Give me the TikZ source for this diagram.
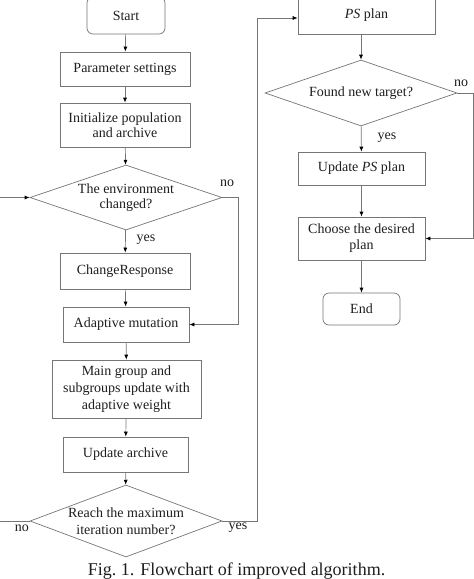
\documentclass[tikz,border=0pt]{standalone}
\usepackage{fontspec}
\setmainfont{Liberation Serif}
\usetikzlibrary{shapes.geometric,arrows.meta}
\definecolor{linegray}{HTML}{767676}
\definecolor{txt}{HTML}{1E1E1E}
\begin{document}
\begin{tikzpicture}[x=1pt,y=-1pt,
  every node/.style={text=txt},
  box/.style={draw=linegray, line width=0.7pt, fill=white, inner sep=0pt, align=center,
    font=\fontsize{14}{14}\selectfont},
  rbox/.style={box, rounded corners=6pt},
  dia/.style={box, diamond, minimum width=192pt, minimum height=65pt},
  dtext/.style={inner sep=0pt, align=center, text=txt},
  lbl/.style={font=\fontsize{14}{14}\selectfont, inner sep=0pt},
  arr/.style={draw=linegray, line width=0.7pt, -{Latex[length=5pt,width=4pt,color=black]}},
  ln/.style={draw=linegray, line width=0.7pt}
]
\useasboundingbox (0,0) rectangle (474,579);
% left column
\node[rbox, minimum width=78pt, minimum height=37pt] (start) at (126,15.5) {Start};
\node[box, minimum width=130pt, minimum height=34pt] (param) at (125,69) {Parameter settings};
\node[box, minimum width=130pt, minimum height=44pt, font=\fontsize{14}{14.5}\selectfont] (init) at (125,125) {Initialize population\\and archive};
\node[dia, label={[dtext, font=\fontsize{14}{14.5}\selectfont]center:{The environment\\changed?}}] (d1) at (126,197.5) {};
\node[box, minimum width=130pt, minimum height=36pt] (change) at (125,271) {ChangeResponse};
\node[box, minimum width=126pt, minimum height=35pt] (adapt) at (126,324.5) {Adaptive mutation};
\node[box, minimum width=149pt, minimum height=58pt, font=\fontsize{14}{17}\selectfont] (main) at (126.5,389) {Main group and\\subgroups update with\\adaptive weight};
\node[box, minimum width=125pt, minimum height=35pt] (upd) at (125.5,454.5) {Update archive};
\node[dia, minimum height=72pt, label={[dtext, font=\fontsize{14}{17}\selectfont]center:{Reach the maximum\\iteration number?}}] (d2) at (126,521) {};
% right column
\node[box, minimum width=137pt, minimum height=37pt] (ps) at (366.5,15.5) {\textit{PS} plan};
\node[dia, minimum height=66pt, label={[dtext, font=\fontsize{14}{14}\selectfont]center:{Found new target?}}] (d3) at (361,93) {};
\node[box, minimum width=127pt, minimum height=33pt] (updps) at (361.5,168.5) {Update \textit{PS} plan};
\node[box, minimum width=127pt, minimum height=43pt, font=\fontsize{14}{16}\selectfont] (choose) at (361.5,238.5) {Choose the desired\\plan};
\node[rbox, minimum width=77pt, minimum height=32pt] (end) at (361.5,309) {End};
% helper coordinates
\coordinate (inL) at (0,197.5);
\coordinate (nR1) at (238.5,197.5);
\coordinate (outL) at (0,521);
\coordinate (yR2) at (257,18);
\coordinate (nR3) at (473,93);
% connectors
\draw[arr] (start) -- (param);
\draw[arr] (param) -- (init);
\draw[arr] (init) -- (d1);
\draw[arr] (inL) -- (d1.west);
\draw[arr] (d1) -- (change);
\draw[arr] (d1.east) -- (nR1) |- (adapt.east);
\draw[arr] (change) -- (adapt);
\draw[arr] (adapt) -- (main);
\draw[arr] (main) -- (upd);
\draw[arr] (upd) -- (d2);
\draw[ln] (d2.west) -- (outL);
\draw[arr] (d2.east) -| (yR2) -- (yR2 -| ps.west);
\draw[arr] (ps.south -| d3.north) -- (d3);
\draw[arr] (d3) -- (updps);
\draw[arr] (d3.east) -- (nR3) |- (choose.east);
\draw[arr] (updps) -- (choose);
\draw[arr] (choose) -- (end);
% labels
\node[lbl] (no1) at (227,183) {no};
\node[lbl] (yes1) at (146,240) {yes};
\node[lbl] (no2) at (22,528) {no};
\node[lbl] (yes2) at (238,528) {yes};
\node[lbl] (no3) at (461,83) {no};
\node[lbl] (yes3) at (387,138) {yes};
% caption
\node[anchor=base, inner sep=0pt, font=\fontsize{18}{18}\selectfont] (cap) at (236.5,575) {Fig.~1. Flowchart of improved algorithm.};
\end{tikzpicture}
\end{document}
